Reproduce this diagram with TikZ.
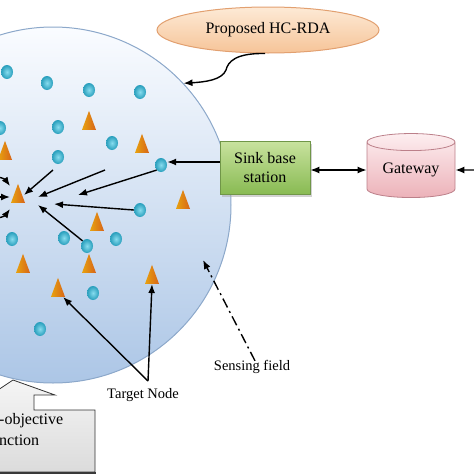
\documentclass[tikz,border=0pt]{standalone}
\usepackage{fontspec}
\setmainfont{Liberation Serif}
\usetikzlibrary{arrows.meta, shapes.geometric, shadows}

\definecolor{dotlight}{RGB}{135,220,238}
\definecolor{dotblue}{RGB}{40,158,188}
\definecolor{triorange}{RGB}{215,100,25}
\definecolor{fieldtop}{RGB}{250,252,255}
\definecolor{fieldbot}{RGB}{172,198,230}
\definecolor{fieldline}{RGB}{140,168,202}
\definecolor{sinktop}{RGB}{200,226,158}
\definecolor{sinkbot}{RGB}{136,186,82}
\definecolor{sinkline}{RGB}{112,150,72}
\definecolor{gwtop}{RGB}{253,238,240}
\definecolor{gwbot}{RGB}{236,178,185}
\definecolor{gwline}{RGB}{188,128,138}
\definecolor{rdatop}{RGB}{253,234,214}
\definecolor{rdabot}{RGB}{246,196,152}
\definecolor{rdaline}{RGB}{226,160,112}

\begin{document}
\begin{tikzpicture}[x=1pt, y=-1pt,
    sensor/.style={ellipse, minimum width=12, minimum height=14, inner sep=0,
        inner color=dotlight, outer color=dotblue},
    target/.style={isosceles triangle, isosceles triangle stretches, shape border rotate=90,
        minimum width=14, minimum height=19, inner sep=0,
        left color=triorange!60!yellow, right color=triorange},
    arr/.style={-{Latex[length=9pt,width=7pt]}, line width=1.4pt},
    txt/.style={font=\fontsize{16}{19}\selectfont},
    smalltxt/.style={font=\fontsize{14.5}{17}\selectfont}]

    \useasboundingbox (0,0) rectangle (474,474);
    \clip (0,0) rectangle (474,474);

    % sensing field
    \node[circle, minimum size=356, inner sep=0, draw=fieldline, line width=1pt,
        top color=fieldtop, bottom color=fieldbot] (field) at (53,205) {};

    % objective box (cut at the left border)
    \draw[gray!40!black, line width=0.8pt, top color=gray!8, bottom color=gray!28]
        (-5,392) -- (13,380) -- (55,395) -- (34,395) -- (34,410) -- (95,410) -- (95,472) -- (-5,472) -- cycle;
    \draw[line width=3pt, gray!45!black] (-5,473) -- (96,473);
    \node[txt, anchor=north west, align=left, inner sep=0, font=\fontsize{16}{21}\selectfont] (mof) at (-1,413) {-objective\\nction};

    \begin{scope}
        \node[sensor] (d1) at (7,72) {};
        \node[sensor] (d2) at (47,83) {};
        \node[sensor] (d3) at (89,90) {};
        \node[sensor] (d4) at (140,92) {};
        \node[sensor] (d5) at (0,128) {};
        \node[sensor] (d6) at (58,127) {};
        \node[sensor] (d7) at (112,143) {};
        \node[sensor] (d8) at (58,157) {};
        \node[sensor] (d9) at (161,165) {};
        \node[sensor] (d10) at (140,210) {};
        \node[sensor] (d11) at (12,239) {};
        \node[sensor] (d12) at (64,238) {};
        \node[sensor] (d13) at (87,246) {};
        \node[sensor] (d14) at (116,239) {};
        \node[sensor] (d15) at (93,293) {};
        \node[sensor] (d16) at (40,329) {};
    \end{scope}

    \begin{scope}
        \node[target] (t1) at (89,125) {};
        \node[target] (t2) at (142,148) {};
        \node[target] (t3) at (5,155) {};
        \node[target] (t4) at (18,198) {};
        \node[target] (t5) at (183,204) {};
        \node[target] (t6) at (97,226) {};
        \node[target] (t7) at (23,268) {};
        \node[target] (t8) at (89,268) {};
        \node[target] (t9) at (152,279) {};
        \node[target] (t10) at (58,292) {};
    \end{scope}

    % hops towards the target
    \coordinate (s1) at (53,170);
    \coordinate (s2) at (105,170);
    \coordinate (h1) at (24,195);
    \coordinate (h2) at (38,197);
    \coordinate (h3) at (78,195);
    \coordinate (h4) at (54,204);
    \coordinate (h5) at (38,205);
    \draw[arr] (s1) -- (h1);
    \draw[arr] (s2) -- (h2);
    \draw[arr] (d9.south west) -- (h3);
    \draw[arr] (d10.west) -- (h4);
    \draw[arr] (d13.north west) -- (h5);

    \coordinate (l1) at (-8,176);
    \coordinate (l2) at (-8,197);
    \coordinate (l3) at (-8,219);
    \coordinate (e1) at (10,186);
    \coordinate (e2) at (10,197);
    \coordinate (e3) at (10,209);
    \draw[arr] (l1) to[bend left=25] (e1);
    \draw[arr] (l2) -- (e2);
    \draw[arr] (l3) to[bend right=25] (e3);

    % boxes on the right
    \node[txt, align=center, minimum width=90, minimum height=53, inner sep=0, draw=sinkline, line width=0.8pt,
        top color=sinktop, bottom color=sinkbot,
        drop shadow={shadow xshift=2pt, shadow yshift=-2pt, fill=gray!70}] (sink) at (265,168) {Sink base\\station};
    \node[txt, cylinder, shape border rotate=90, aspect=0.3, minimum width=88, minimum height=64, inner sep=0,
        draw=gwline, line width=0.8pt, top color=gwtop, bottom color=gwbot] (gw) at (411,170) {Gateway};
    \coordinate (gwin) at (480,170);

    \draw[arr] ([yshift=3pt]sink.west |- d9) -- ([yshift=3pt]d9.east);
    \draw[{Latex[length=9pt,width=7pt]}-{Latex[length=9pt,width=7pt]}, line width=1.4pt] (sink.east |- gw.west) -- (gw.west);
    \draw[arr] (gwin) -- (gw.east);

    % proposed scheme
    \node[txt, ellipse, minimum width=222, minimum height=46, draw=rdaline, line width=1pt,
        top color=rdatop, bottom color=rdabot] (hrda) at (268,30) {Proposed HC-RDA};
    \draw[arr] (hrda.263) .. controls (235,53) and (228,62) .. (226,70) .. controls (222,80) and (205,82) .. (field.43);

    % labels
    \node[smalltxt] (tnl) at (143,395) {Target Node};
    \coordinate (tgt) at (148,381);
    \draw[arr] (tgt) -- (t10.south east);
    \draw[arr] (tgt) -- (t9.south);

    \node[smalltxt] (sfl) at (252,367) {Sensing field};
    \coordinate (sfe) at (203,260);
    \draw[-{Latex[length=9pt,width=7pt]}, line width=1.4pt, dash pattern=on 10pt off 4pt on 2pt off 4pt] ([xshift=3pt, yshift=-4pt]sfl.north) -- (sfe);

\end{tikzpicture}
\end{document}
